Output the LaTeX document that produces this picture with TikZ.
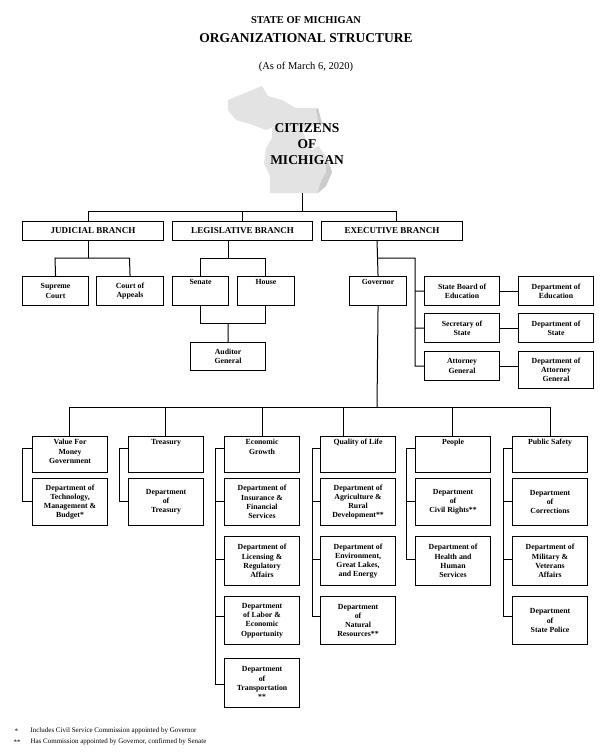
\documentclass[tikz,border=0pt]{standalone}
\usepackage{fontspec}
\setmainfont{Liberation Serif}
\begin{document}
\begin{tikzpicture}[x=1pt,y=-1pt,
 box/.style={draw,line width=1.1pt,anchor=north west,inner sep=1pt,align=center,font=\fontsize{7.8}{9.2}\selectfont\bfseries},
 con/.style={line width=1pt},
 br/.style={font=\fontsize{9}{10}\selectfont\bfseries}]
\useasboundingbox (0,0) rectangle (600,752);
\newcommand{\bx}[6]{\node[box,minimum width=#4pt,minimum height=#5pt] (#1) at (#2,#3) {#6};}
\newcommand{\tbx}[6]{\node[box,minimum width=#4pt,minimum height=#5pt] (#1) at (#2,#3) {\parbox[t][\dimexpr#5pt-4pt\relax][t]{\dimexpr#4pt-4pt\relax}{\centering\strut #6}};}
% titles
\node[font=\fontsize{10.5}{12}\selectfont\bfseries] (t1) at (306,20) {STATE OF MICHIGAN};
\node[font=\fontsize{13.5}{15}\selectfont\bfseries] (t2) at (306,38) {ORGANIZATIONAL STRUCTURE};
\node[font=\fontsize{10.5}{12}\selectfont] (t3) at (306,67) {(As of March 6, 2020)};
% Michigan shape
\fill[gray!22] (228,100) -- (262,86) -- (268,96) -- (282,100) -- (296,108) -- (318,108) -- (322,124) -- (300,130) -- (288,134) -- (276,126) -- (266,130) -- (250,124) -- (236,120) -- (228,110) -- cycle;
\fill[gray!22] (272,128) -- (300,124) -- (306,140) -- (312,150) -- (318,146) -- (326,156) -- (332,172) -- (326,186) -- (318,193) -- (270,193) -- (270,176) -- (264,164) -- (266,148) -- (272,138) -- cycle;
\fill[gray!40] (326,156) -- (332,172) -- (326,186) -- (318,193) -- (320,184) -- (326,172) -- cycle;
\fill[gray!40] (318,108) -- (322,124) -- (319,124) -- (316,110) -- cycle;
\node[font=\fontsize{13.5}{16}\selectfont\bfseries,align=center] (cit) at (307,144) {CITIZENS\\OF\\MICHIGAN};
\coordinate (citb) at (302,193);
% branches
\node[box,br,minimum width=141pt,minimum height=19pt] (jud) at (22,221) {JUDICIAL BRANCH};
\node[box,br,minimum width=140pt,minimum height=19pt] (leg) at (172,221) {LEGISLATIVE BRANCH};
\node[box,br,minimum width=141pt,minimum height=19pt] (exe) at (321,221) {EXECUTIVE BRANCH};
\draw[con] (citb) -- (302,211);
\draw[con] (88,221) -- (88,211) -- (396,211) -- (396,221);
\draw[con] (242,211) -- (242,221);
% judicial
\bx{sup}{22}{276}{66}{29}{Supreme\\Court}
\bx{coa}{96}{276}{67}{29}{Court of\\Appeals}
\draw[con] (88,240) -- (88,258);
\draw[con] (sup.north) -- (55,258) -- (129.5,258) -- (coa.north);
% legislative
\tbx{sen}{172}{276}{56}{29}{Senate}
\tbx{hou}{237}{276}{57}{29}{House}
\bx{aud}{190}{342}{75}{28}{Auditor\\General}
\draw[con] (228,240) -- (228,258);
\draw[con] (200,276) -- (200,258) -- (265.5,258) -- (265.5,276);
\draw[con] (200,305) -- (200,323) -- (265.5,323) -- (265.5,305);
\draw[con] (228,323) -- (aud.north);
% executive
\tbx{gov}{349}{276}{57}{29}{Governor}
\bx{sbe}{424}{276}{75}{29}{State Board of\\Education}
\bx{sos}{424}{313}{75}{29}{Secretary of\\State}
\bx{ag}{424}{351}{75}{29}{Attorney\\General}
\bx{de}{518}{276}{75}{29}{Department of\\Education}
\bx{ds}{518}{313}{75}{29}{Department of\\State}
\bx{dag}{518}{351}{75}{37}{Department of\\Attorney\\General}
\draw[con] (377,240) -- (gov.north);
\draw[con] (377,258) -- (415,258) -- (415,366) -- (ag.west);
\draw[con] (415,291) -- (sbe.west);
\draw[con] (415,328) -- (sos.west);
\draw[con] (sbe.east) -- (de.west |- sbe.east);
\draw[con] (sos.east) -- (ds.west |- sos.east);
\draw[con] (ag.east) -- (dag.west |- ag.east);
\draw[con] (gov.south) -- (377,407);
\draw[con] (69,436) -- (69,407) -- (550,407) -- (550,436);
\foreach \cx in {165,262,343,452} \draw[con] (\cx,407) -- (\cx,436);
% columns
\tbx{h1}{32}{436}{75}{36}{Value For\\Money\\Government}
\tbx{h2}{128}{436}{75}{36}{Treasury}
\tbx{h3}{224}{436}{75}{36}{Economic\\Growth}
\tbx{h4}{320}{436}{75}{36}{Quality of Life}
\tbx{h5}{415}{436}{75}{36}{People}
\tbx{h6}{512}{436}{75}{36}{Public Safety}
\bx{a1}{32}{478}{75}{47}{Department of\\Technology,\\Management \&\\Budget*}
\bx{b1}{128}{478}{75}{47}{Department\\of\\Treasury}
\bx{c1}{224}{478}{75}{47}{Department of\\Insurance \&\\Financial\\Services}
\bx{c2}{224}{536}{75}{49}{Department of\\Licensing \&\\Regulatory\\Affairs}
\bx{c3}{224}{596}{75}{48}{Department\\of Labor \&\\Economic\\Opportunity}
\bx{c4}{224}{658}{75}{49}{Department\\of\\Transportation\\**}
\bx{d1}{320}{478}{75}{47}{Department of\\Agriculture \&\\Rural\\Development**}
\bx{d2}{320}{536}{75}{49}{Department of\\Environment,\\Great Lakes,\\and Energy}
\bx{d3}{320}{596}{75}{48}{Department\\of\\Natural\\Resources**}
\bx{e1}{415}{478}{75}{47}{Department\\of\\Civil Rights**}
\bx{e2}{415}{536}{75}{49}{Department of\\Health and\\Human\\Services}
\bx{f1}{512}{478}{75}{47}{Department\\of\\Corrections}
\bx{f2}{512}{536}{75}{49}{Department of\\Military \&\\Veterans\\Affairs}
\bx{f3}{512}{596}{75}{48}{Department\\of\\State Police}
% brackets
\draw[con] (h1.west |- 0,448) -- (22,448) -- (22,501) -- (a1.west |- 0,501);
\draw[con] (h2.west |- 0,448) -- (119,448) -- (119,501) -- (b1.west |- 0,501);
\draw[con] (h3.west |- 0,448) -- (215,448) -- (215,684) -- (c4.west |- 0,684);
\foreach \yy/\n in {501/c1,559/c2,616/c3} \draw[con] (215,\yy) -- (\n.west |- 0,\yy);
\draw[con] (h4.west |- 0,448) -- (312,448) -- (312,616) -- (d3.west |- 0,616);
\foreach \yy/\n in {501/d1,559/d2} \draw[con] (312,\yy) -- (\n.west |- 0,\yy);
\draw[con] (h5.west |- 0,448) -- (406,448) -- (406,559) -- (e2.west |- 0,559);
\draw[con] (406,501) -- (e1.west |- 0,501);
\draw[con] (h6.west |- 0,448) -- (503,448) -- (503,616) -- (f3.west |- 0,616);
\foreach \yy/\n in {501/f1,559/f2} \draw[con] (503,\yy) -- (\n.west |- 0,\yy);
% footnotes
\node[anchor=west,font=\fontsize{7}{7}\selectfont] (fn1a) at (11,731) {*};
\node[anchor=west,font=\fontsize{7}{7}\selectfont] (fn1) at (27,731) {Includes Civil Service Commission appointed by Governor};
\node[anchor=west,font=\fontsize{7}{7}\selectfont] (fn2a) at (10,742) {**};
\node[anchor=west,font=\fontsize{7}{7}\selectfont] (fn2) at (27,742) {Has Commission appointed by Governor, confirmed by Senate};
\end{tikzpicture}
\end{document}
